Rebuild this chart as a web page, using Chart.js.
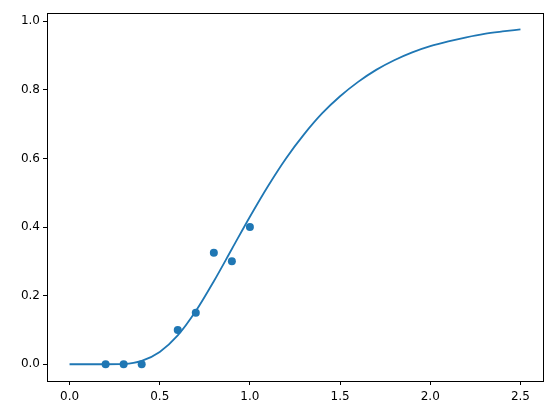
<!DOCTYPE html>
<html lang="en">
<head>
  <meta charset="UTF-8" />
  <title>Fitted curve</title>
  <script src="https://cdn.jsdelivr.net/npm/chart.js"></script>
  <style>
    html, body { margin: 0; padding: 0; background: #fff; }
    #wrap { width: 560px; height: 416px; }
  </style>
</head>
<body>
  <div id="wrap"><canvas id="fitChart" width="560" height="416"></canvas></div>

  <script>
    // observed points
    const obsX = [0.2, 0.3, 0.4, 0.6, 0.7, 0.8, 0.9, 1.0];
    const obsY = [0.0, 0.0, 0.0, 0.1, 0.15, 0.325, 0.3, 0.4];

    // fitted curve
    const curveX = [0.0, 0.1, 0.2, 0.3, 0.4, 0.5, 0.6, 0.7, 0.8, 0.9, 1.0, 1.1, 1.2,
                    1.3, 1.4, 1.5, 1.6, 1.7, 1.8, 1.9, 2.0, 2.1, 2.2, 2.3, 2.4, 2.5];
    const curveY = [0.0, 0.0, 0.0, 0.001, 0.01, 0.036, 0.084, 0.155, 0.242, 0.336, 0.43, 0.519, 0.6,
                    0.67, 0.731, 0.781, 0.823, 0.858, 0.886, 0.909, 0.927, 0.941, 0.953, 0.963, 0.97, 0.976];

    const xTicks = [0.0, 0.5, 1.0, 1.5, 2.0, 2.5];
    const yTicks = [0.0, 0.2, 0.4, 0.6, 0.8, 1.0];

    const blue = "#1f77b4";
    Chart.defaults.font.family = "DejaVu Sans";
    Chart.defaults.font.size = 12;
    Chart.defaults.color = "#000";

    // matplotlib draws all four spines
    const frame = {
      id: "frame",
      afterDraw(chart) {
        const a = chart.chartArea, c = chart.ctx;
        c.save();
        c.strokeStyle = "#000";
        c.lineWidth = 1;
        c.strokeRect(Math.round(a.left) + 0.5, Math.round(a.top) + 0.5,
                     Math.round(a.right - a.left), Math.round(a.bottom - a.top));
        c.restore();
      }
    };

    const ctx = document.getElementById("fitChart").getContext("2d");
    new Chart(ctx, {
      type: "scatter",
      data: {
        datasets: [{
          data: curveX.map((x, i) => ({ x: x, y: curveY[i] })),
          showLine: true,
          borderColor: blue,
          borderWidth: 1.8,
          pointRadius: 0,
          cubicInterpolationMode: "monotone",
          order: 2
        }, {
          data: obsX.map((x, i) => ({ x: x, y: obsY[i] })),
          backgroundColor: blue,
          borderColor: blue,
          pointRadius: 4,
          borderWidth: 0,
          order: 1
        }]
      },
      options: {
        responsive: false,
        animation: false,
        layout: { padding: { top: 13, right: 17, left: 0, bottom: 0 } },
        plugins: {
          legend: { display: false },
          tooltip: { enabled: false }
        },
        scales: {
          x: {
            type: "linear",
            min: -0.125,
            max: 2.625,
            afterBuildTicks: s => { s.ticks = xTicks.map(v => ({ value: v })); },
            afterFit: s => { s.height = 35; },
            grid: { drawOnChartArea: false, drawTicks: true, tickLength: 4, color: "#000" },
            border: { color: "#000" },
            ticks: { padding: 5, maxRotation: 0, callback: v => v.toFixed(1) }
          },
          y: {
            min: -0.04875,
            max: 1.02375,
            afterBuildTicks: s => { s.ticks = yTicks.map(v => ({ value: v })); },
            afterFit: s => { s.width = 47; },
            grid: { drawOnChartArea: false, drawTicks: true, tickLength: 4, color: "#000" },
            border: { color: "#000" },
            ticks: { padding: 3, callback: v => v.toFixed(1) }
          }
        }
      },
      plugins: [frame]
    });
  </script>
</body>
</html>
